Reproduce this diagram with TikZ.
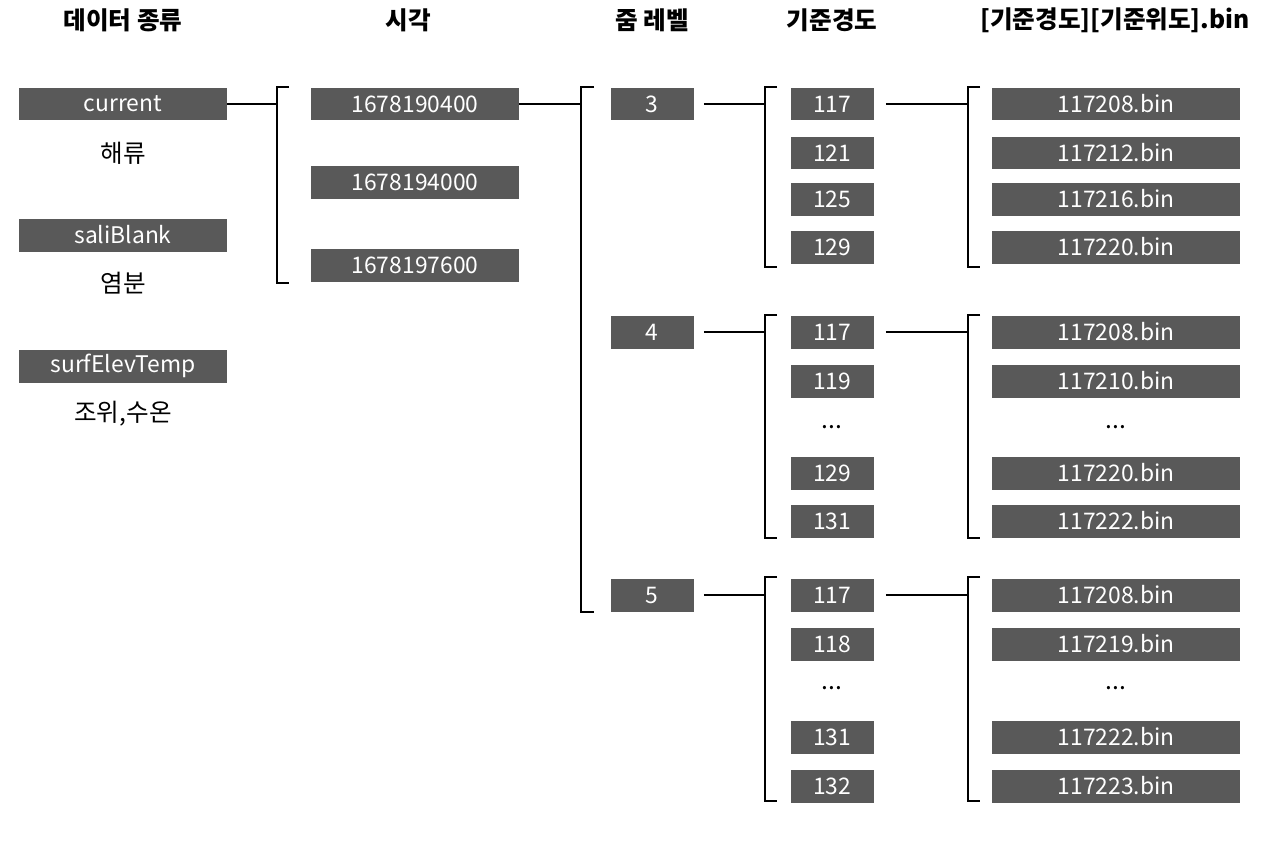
\documentclass[tikz,border=0pt]{standalone}
\usepackage{fontspec}
\setmainfont{Noto Sans CJK KR}
\definecolor{boxgray}{HTML}{595959}
\tikzset{
  tag/.style={fill=boxgray,text=white,inner sep=0pt,minimum height=0.66cm,font=\fontsize{13}{15}\selectfont},
  head/.style={font=\bfseries\fontsize{14}{16}\selectfont},
  note/.style={font=\fontsize{14}{16}\selectfont},
  brk/.style={line width=1.6pt},
  link/.style={line width=0.7pt}
}
\begin{document}
\begin{tikzpicture}[x=0.02cm,y=-0.02cm]
\useasboundingbox (0,0) rectangle (1280,845);

% headers
\node[head] (h1) at (123,20) {데이터 종류};
\node[head] (h2) at (408,20) {시각};
\node[head] (h3) at (652,20) {줌 레벨};
\node[head] (h4) at (832,20) {기준경도};
\node[head] (h5) at (1115,20) {[기준경도][기준위도].bin};

% data types
\node[tag,minimum width=4.16cm] (cur) at (123,104) {current};
\node[note] (curk) at (123,153) {해류};
\node[tag,minimum width=4.16cm] (sal) at (123,235) {saliBlank};
\node[note] (salk) at (123,283) {염분};
\node[tag,minimum width=4.16cm] (sur) at (123,366) {surfElevTemp};
\node[note] (surk) at (123,414) {조위,수온};

% time
\node[tag,minimum width=4.16cm] (t1) at (415,104) {1678190400};
\node[tag,minimum width=4.16cm] (t2) at (415,182) {1678194000};
\node[tag,minimum width=4.16cm] (t3) at (415,265) {1678197600};
\draw[brk] (289,87) -- (277,87) -- (277,283) -- (289,283);
\coordinate (b1) at (277,104);
\draw[link] (cur.east) -- (b1);

% zoom levels
\node[tag,minimum width=1.66cm] (z3) at (652,104) {3};
\node[tag,minimum width=1.66cm] (z4) at (652,332) {4};
\node[tag,minimum width=1.66cm] (z5) at (652,595) {5};
\draw[brk] (594,87) -- (581,87) -- (581,612) -- (594,612);
\coordinate (b2) at (581,104);
\draw[link] (t1.east) -- (b2);

% longitude / files per zoom level
\foreach \g/\top/\bot/\ya/\yb/\yc/\yd/\la/\lb/\lc/\ld/\fa/\fb/\fc/\fd in {
  3/87/267/104/153/199/247/117/121/125/129/117208/117212/117216/117220,
  4/315/538/332/381/473/521/117/119/129/131/117208/117210/117220/117222,
  5/577/801/595/644/737/786/117/118/131/132/117208/117219/117222/117223}{
  \node[tag,minimum width=1.66cm] (lon\g a) at (832,\ya) {\la};
  \node[tag,minimum width=1.66cm] (lon\g b) at (832,\yb) {\lb};
  \node[tag,minimum width=1.66cm] (lon\g c) at (832,\yc) {\lc};
  \node[tag,minimum width=1.66cm] (lon\g d) at (832,\yd) {\ld};
  \node[tag,minimum width=4.96cm] (bin\g a) at (1116,\ya) {\fa.bin};
  \node[tag,minimum width=4.96cm] (bin\g b) at (1116,\yb) {\fb.bin};
  \node[tag,minimum width=4.96cm] (bin\g c) at (1116,\yc) {\fc.bin};
  \node[tag,minimum width=4.96cm] (bin\g d) at (1116,\yd) {\fd.bin};
  \draw[brk] (777,\top) -- (765,\top) -- (765,\bot) -- (777,\bot);
  \draw[brk] (980,\top) -- (968,\top) -- (968,\bot) -- (980,\bot);
  \coordinate (bl\g) at (765,\ya);
  \coordinate (bf\g) at (968,\ya);
  \draw[link] ([xshift=0.2cm]z\g.east) -- (bl\g);
  \draw[link] ([xshift=0.24cm]lon\g a.east) -- (bf\g);
}
\node[note] (dl4) at (832,427) {...};
\node[note] (df4) at (1116,427) {...};
\node[note] (dl5) at (832,688) {...};
\node[note] (df5) at (1116,688) {...};
\end{tikzpicture}
\end{document}
